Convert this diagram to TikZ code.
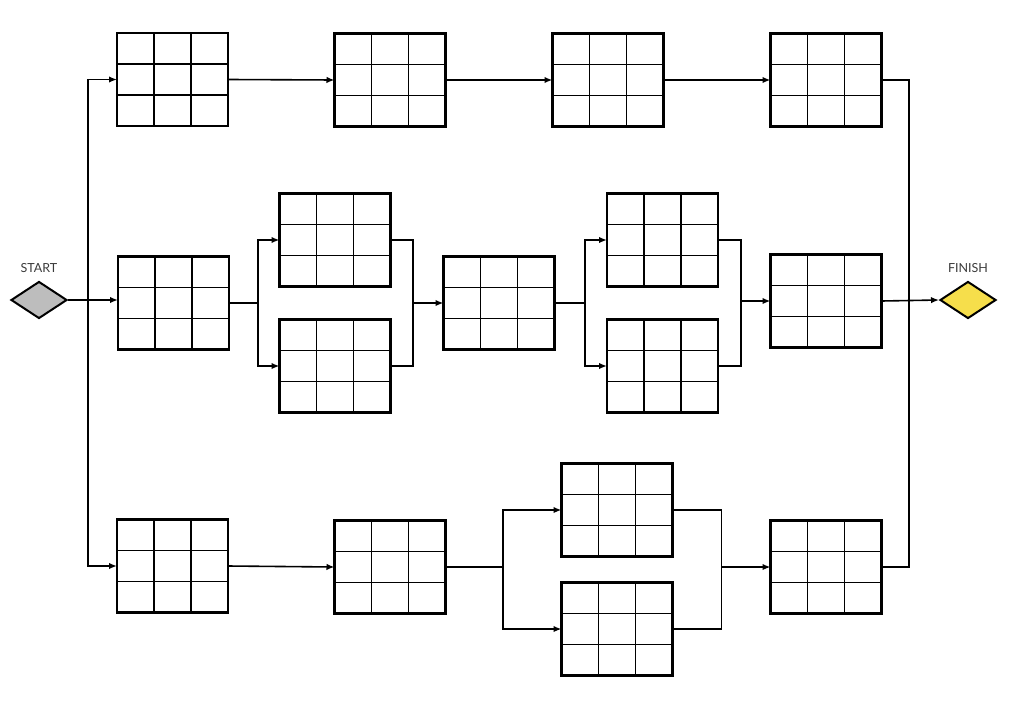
\documentclass[tikz,border=0pt]{standalone}
\usepackage{fontspec}
\setmainfont{Lato}
\usetikzlibrary{arrows.meta,shapes.geometric,calc}
\definecolor{startgray}{HTML}{BDBDBD}
\definecolor{finishyellow}{HTML}{F6DE4B}
\definecolor{labelgray}{HTML}{3A3A3A}
\tikzset{
  gridbox/.style={draw, line width=2.6pt, minimum width=111pt, minimum height=93pt,
    inner sep=0pt, outer sep=0pt, fill=white,
    path picture={
      \foreach \f in {0.3333,0.6667}{
        \draw[line width=1.9pt]
          ($(path picture bounding box.south west)!\f!(path picture bounding box.south east)$) --
          ($(path picture bounding box.north west)!\f!(path picture bounding box.north east)$);
        \draw[line width=1.9pt]
          ($(path picture bounding box.south west)!\f!(path picture bounding box.north west)$) --
          ($(path picture bounding box.south east)!\f!(path picture bounding box.north east)$);
      }
    }},
  endpoint/.style={diamond, draw, line width=2pt, minimum width=56pt, minimum height=37pt, inner sep=0pt},
  conn/.style={line width=1.6pt, line join=miter},
  arr/.style={conn, -{Latex[length=8pt,width=6.5pt]}},
  lbl/.style={text=labelgray, font=\fontsize{12.5pt}{14pt}\selectfont, inner sep=0pt}
}
\begin{document}
\begin{tikzpicture}[x=1pt,y=-1pt]
\useasboundingbox (0,0) rectangle (1024,701);
% endpoints
\node[endpoint, fill=startgray] (start) at (39,300) {};
\node[endpoint, fill=finishyellow] (finish) at (968,300) {};
\node[lbl] (startlbl) at (39,268) {START};
\node[lbl] (finishlbl) at (968,268) {FINISH};
% row 1
\node[gridbox] (a1) at (172.5,79.5) {};
\node[gridbox] (a2) at (390,80) {};
\node[gridbox] (a3) at (608,80) {};
\node[gridbox] (a4) at (826,80) {};
% row 2
\node[gridbox] (b1) at (173.5,303) {};
\node[gridbox] (b2) at (335,240) {};
\node[gridbox] (b3) at (335,366) {};
\node[gridbox] (b4) at (499,303) {};
\node[gridbox] (b5) at (662.5,240) {};
\node[gridbox] (b6) at (662.5,366) {};
\node[gridbox] (b7) at (826,301) {};
% row 3
\node[gridbox] (c1) at (172.5,566) {};
\node[gridbox] (c2) at (390,567) {};
\node[gridbox] (c3) at (617,510) {};
\node[gridbox] (c4) at (617,629) {};
\node[gridbox] (c5) at (826,567) {};
% junction coordinates
\coordinate (sj) at (88,300);
\coordinate (fj) at (909,300);
\coordinate (bj1) at (258,303);
\coordinate (bj2) at (413,303);
\coordinate (bj3) at (585,303);
\coordinate (bj4) at (741,301);
\coordinate (cj1) at (503,567);
\coordinate (cj2) at (721.5,567);
% start connections
\draw[arr] (start.east) -- (start.east -| b1.west);
\draw[arr] (sj) |- (a1.west);
\draw[arr] (sj) |- (c1.west);
% row 1
\draw[arr] (a1.east) -- (a2.west);
\draw[arr] (a2.east) -- (a3.west);
\draw[arr] (a3.east) -- (a4.west);
\draw[conn] (a4.east) -| (fj);
\draw[conn] (c5.east) -| (fj);
\draw[arr] (b7.east) -- (finish.west);
% row 2
\draw[conn] (b1.east) -- (bj1);
\draw[arr] (bj1) |- (b2.west);
\draw[arr] (bj1) |- (b3.west);
\draw[conn] (b2.east) -| (bj2);
\draw[conn] (b3.east) -| (bj2);
\draw[arr] (bj2) -- (b4.west);
\draw[conn] (b4.east) -- (bj3);
\draw[arr] (bj3) |- (b5.west);
\draw[arr] (bj3) |- (b6.west);
\draw[conn] (b5.east) -| (bj4);
\draw[conn] (b6.east) -| (bj4);
\draw[arr] (bj4) -- (b7.west);
% row 3
\draw[arr] (c1.east) -- (c2.west);
\draw[conn] (c2.east) -- (cj1);
\draw[arr] (cj1) |- (c3.west);
\draw[arr] (cj1) |- (c4.west);
\draw[conn] (c3.east) -| (cj2);
\draw[conn] (c4.east) -| (cj2);
\draw[arr] (cj2) -- (c5.west);
\end{tikzpicture}
\end{document}
